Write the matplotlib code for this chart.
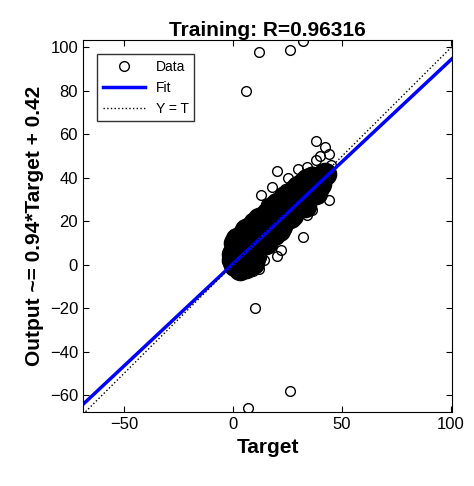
import matplotlib.pyplot as plt

plt.rcParams['font.family'] = ['Liberation Sans', 'DejaVu Sans']

# dense cloud (read off approx.)
cloud_t = [0, 1, 2, 3, 1, 2, 4, 5, 3, 6, 7, 5, 8, 9, 6, 10, 11, 8, 12, 13, 10, 14, 15, 12,
           16, 17, 14, 18, 19, 16, 20, 21, 18, 22, 23, 20, 24, 25, 22, 26, 27, 24, 28, 29,
           26, 30, 31, 28, 32, 33, 30, 34, 35, 32, 36, 37, 34, 38, 39, 36, 40, 41, 42, 38,
           2, 5, 8, 11, 14, 17, 20, 23, 26, 29, 32, 35, 4, 7, 10, 13, 16, 19, 22, 25, 28, 31,
           34, 37, 3, 6, 9, 12, 15, 18, 21, 24, 27, 30, 33, 36, 39, 1, 0, 2, 4, 6, 9, 3]
cloud_o = [2, 6, 0, 4, 10, 8, 2, 7, 12, 3, 9, 14, 5, 11, 16, 6, 13, 17, 9, 14, 19, 10, 16,
           21, 13, 18, 22, 14, 20, 24, 17, 22, 26, 18, 24, 28, 21, 26, 29, 22, 28, 31, 25, 30,
           32, 27, 32, 34, 29, 34, 36, 31, 36, 37, 33, 38, 39, 35, 39, 40, 37, 41, 42, 33,
           5, 3, 10, 8, 12, 15, 19, 20, 25, 26, 30, 33, 7, 11, 4, 17, 20, 14, 26, 23, 31, 27,
           37, 34, 1, 9, 6, 15, 10, 22, 16, 28, 23, 35, 27, 40, 36, 0, 5, 12, 11, -1, 1, -2]
# scattered circles around the cloud and far outliers
out_t = [12, 26, 32, 6, 10, 7, 26, 38, 42, 44, 40, 20, 34, 13, 8, 15, 3, 4, 9, 12, 20, 22,
         28, 34, 36, 44, 32, 45, 18, 25, 30, 5, 16, 24, 38, 10, 2, -1, 6, 14]
out_o = [98, 99, 103, 80, -20, -66, -58, 57, 54, 51, 50, 43, 45, 32, 21, 28, 6, -2, -3, -2,
         4, 7, 20, 23, 25, 30, 13, 46, 36, 40, 44, 17, 24, 35, 48, 14, 12, 3, -4, 2]

fit_slope = 0.94
fit_icpt = 0.42
xlim = [-68.8, 100.5]
ylim = [-67.8, 103.5]

fig = plt.figure(figsize=(4.74, 4.86), dpi=100)
ax = fig.add_axes([0.175, 0.152, 0.779, 0.766])

ax.plot(cloud_t, cloud_o, 'o', mfc='none', mec='k', ms=11, mew=6, label='_nolegend_')
ax.plot(out_t, out_o, 'o', mfc='none', mec='k', ms=7, mew=1, label='Data')
ax.plot(xlim, [fit_slope * x + fit_icpt for x in xlim], color='#0000ff', lw=2.5, label='Fit')
ax.plot(xlim, xlim, 'k:', lw=1, label='Y = T')

ax.set_xlim(xlim)
ax.set_ylim(ylim)
ax.set_xticks([-50, 0, 50, 100])
ax.set_yticks([-60, -40, -20, 0, 20, 40, 60, 80, 100])
ax.tick_params(direction='in', labelsize=12, length=4, top=True, right=True)
ax.set_xlabel('Target', fontsize=15, fontweight='bold')
ax.set_ylabel('Output ~= 0.94*Target + 0.42', fontsize=15, fontweight='bold')
ax.set_title('Training: R=0.96316', fontsize=15, fontweight='bold', pad=3)
ax.legend(loc='upper left', fontsize=10, fancybox=False, edgecolor='k',
          handlelength=3, bbox_to_anchor=(0.02, 0.98))

fig.savefig('out.png', dpi=100)
